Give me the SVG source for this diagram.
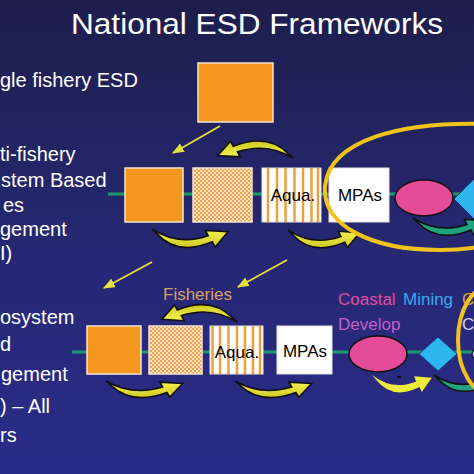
<svg xmlns="http://www.w3.org/2000/svg" xmlns:xlink="http://www.w3.org/1999/xlink" width="474" height="474" viewBox="0 0 474 474">
<style>
.t{font-family:"Liberation Sans",Arial,sans-serif;fill:#fff;font-size:20px}
.lbl{font-family:"Liberation Sans",Arial,sans-serif;fill:#000;font-size:17px;text-anchor:middle}
.or{fill:#f5961e;stroke:#f6e4d0;stroke-width:1.5}
.ck{fill:url(#checker);stroke:#f6e4d0;stroke-width:1.5}
.wh{fill:#fff;stroke:#e8e0e0;stroke-width:1}
.st{stroke:#eba03e;stroke-width:2.5;fill:none}
.gl{stroke:#1d9a6c;stroke-width:3;fill:none}
.ya{fill:url(#yel);stroke:#111;stroke-width:1.6}
.ya2{fill:#ecea3a;stroke:none}
.ga{fill:#1fa37c;stroke:#111;stroke-width:1.6}
.pk{fill:#e44c98;stroke:#111;stroke-width:1.5}
.dm{fill:#2fb6ee;stroke:#1a3a80;stroke-width:1}
.ring{fill:none;stroke:#f2c21c;stroke-width:4}
.dg{stroke:#e6e040;stroke-width:1.8;fill:none;marker-end:url(#ah)}
</style>
<defs>
<linearGradient id="bg" x1="0" y1="0" x2="0" y2="1">
<stop offset="0" stop-color="#1d1e4c"/>
<stop offset="0.45" stop-color="#25276e"/>
<stop offset="1" stop-color="#2b2c8a"/>
</linearGradient>
<linearGradient id="yel" x1="0" y1="0" x2="0" y2="1">
<stop offset="0" stop-color="#f8f450"/>
<stop offset="1" stop-color="#cfc924"/>
</linearGradient>
<pattern id="checker" width="4" height="4" patternUnits="userSpaceOnUse">
<rect width="4" height="4" fill="#fce3c6"/>
<rect width="2" height="2" fill="#f1a04c"/>
<rect x="2" y="2" width="2" height="2" fill="#f1a04c"/>
</pattern>
<marker id="ah" viewBox="0 0 10 8" refX="9" refY="4" markerWidth="12" markerHeight="10" markerUnits="userSpaceOnUse" orient="auto">
<path d="M0,0 L10,4 L0,8 Z" fill="#e6e040"/>
</marker>
<path id="carrow" vector-effect="non-scaling-stroke" d="M0,0 Q25,20 54,8 L51.3,1.6 L73,3.3 L60.7,21.4 L58,15 Q25,32 5,6 Z"/>
</defs>

<rect width="474" height="474" fill="url(#bg)"/>

<text x="257" y="34" font-family="Liberation Sans, Arial, sans-serif" font-size="29" fill="#fff" text-anchor="middle" textLength="372" lengthAdjust="spacingAndGlyphs">National ESD Frameworks</text>

<g id="left-text">
<text class="t" x="0" y="87">gle fishery ESD</text>
<text class="t" x="0" y="161">ti-fishery</text>
<text class="t" x="1" y="187">stem Based</text>
<text class="t" x="3" y="212">es</text>
<text class="t" x="0" y="236">gement</text>
<text class="t" x="0" y="260">I)</text>
<text class="t" x="0" y="324">osystem</text>
<text class="t" x="0" y="351">d</text>
<text class="t" x="1" y="381">gement</text>
<text class="t" x="0" y="413">) – All</text>
<text class="t" x="0" y="442">rs</text>
</g>

<g id="connectors">
<line class="gl" x1="108" y1="194" x2="460" y2="194"/>
<line class="gl" x1="72" y1="352" x2="474" y2="352"/>
<line class="dg" x1="220" y1="126" x2="173" y2="153"/>
<line class="dg" x1="152" y1="262" x2="104" y2="288"/>
<line class="dg" x1="287" y1="260" x2="238" y2="287"/>
<use xlink:href="#carrow" class="ya" transform="translate(293,158) scale(-1.03,-0.78)"/>
<use xlink:href="#carrow" class="ya" transform="translate(152,229) scale(1.04,0.85)"/>
<use xlink:href="#carrow" class="ya" transform="translate(288,230) scale(0.98,0.82)"/>
<use xlink:href="#carrow" class="ga" transform="translate(413,218) scale(1,0.8)"/>
<use xlink:href="#carrow" class="ya" transform="translate(237,322) scale(-1.03,-0.8)"/>
<use xlink:href="#carrow" class="ya" transform="translate(106,381) scale(1.05,0.76)"/>
<use xlink:href="#carrow" class="ya" transform="translate(235,381) scale(1.05,0.76)"/>
<use xlink:href="#carrow" class="ya2" transform="translate(372,375) scale(0.82,0.8)"/>
<use xlink:href="#carrow" class="ga" transform="translate(434,375) scale(0.9,0.75)"/>
<rect x="397" y="376" width="4" height="2" fill="#111"/>
</g>

<g id="single-fishery"><rect class="or" x="198" y="63" width="75" height="59"/></g>

<g id="r2-fishery1"><rect class="or" x="125" y="168" width="58" height="54"/></g>
<g id="r2-fishery2"><rect class="ck" x="193" y="168" width="59" height="54"/></g>
<g id="r2-aqua">
<rect class="wh" x="262" y="168" width="59" height="54"/>
<path class="st" d="M268,168V222M277,168V222M285.5,168V222M294.5,168V222M303,168V222M311.5,168V222M318,168V222"/>
<text class="lbl" x="293" y="201">Aqua.</text>
</g>
<g id="r2-mpas">
<rect class="wh" x="329" y="168" width="60" height="54"/>
<text class="lbl" x="360" y="201">MPAs</text>
</g>
<g id="r2-coastal"><ellipse class="pk" cx="424" cy="198" rx="29" ry="18"/></g>
<g id="r2-mining"><path class="dm" d="M454,199 L478,175 L502,199 L478,223 Z"/></g>
<g id="r2-ring"><path class="ring" d="M490,124 C400,121 330,140 325,186 C322,225 370,250 440,250 C460,250 475,248 490,245"/></g>

<g id="r3-fisheries-label"><text x="163" y="300" font-family="Liberation Sans, Arial, sans-serif" font-size="17" fill="#d7a068">Fisheries</text></g>
<g id="r3-fishery1"><rect class="or" x="87" y="326" width="54" height="48"/></g>
<g id="r3-fishery2"><rect class="ck" x="149" y="326" width="53" height="48"/></g>
<g id="r3-aqua">
<rect class="wh" x="210" y="326" width="53" height="48"/>
<path class="st" d="M212.5,326V374M220,326V374M228.5,326V374M237,326V374M245,326V374M253,326V374M260,326V374"/>
<text class="lbl" x="237" y="358">Aqua.</text>
</g>
<g id="r3-mpas">
<rect class="wh" x="277" y="326" width="55" height="48"/>
<text class="lbl" x="305" y="357">MPAs</text>
</g>
<g id="r3-coastal">
<text x="338" y="305" font-family="Liberation Sans, Arial, sans-serif" font-size="17" fill="#e24ca2">Coastal</text>
<text x="338" y="330" font-family="Liberation Sans, Arial, sans-serif" font-size="17" fill="#c95ec8">Develop</text>
<ellipse class="pk" cx="378" cy="354" rx="29" ry="18"/>
</g>
<g id="r3-mining">
<text x="403" y="305" font-family="Liberation Sans, Arial, sans-serif" font-size="17" fill="#3aa8ee">Mining</text>
<path class="dm" d="M419,354 L438,337 L457,354 L438,371 Z"/>
</g>
<g id="r3-other">
<text x="462" y="305" font-family="Liberation Sans, Arial, sans-serif" font-size="17" fill="#e0a434">C</text>
<text x="462" y="330" font-family="Liberation Sans, Arial, sans-serif" font-size="17" fill="#d8d0f2">C</text>
<ellipse cx="481" cy="354" rx="9" ry="7" fill="#c4a8e4" stroke="#111" stroke-width="1.2"/>
</g>
<g id="r3-ring"><ellipse class="ring" cx="492" cy="340" rx="34" ry="55"/></g>
</svg>
